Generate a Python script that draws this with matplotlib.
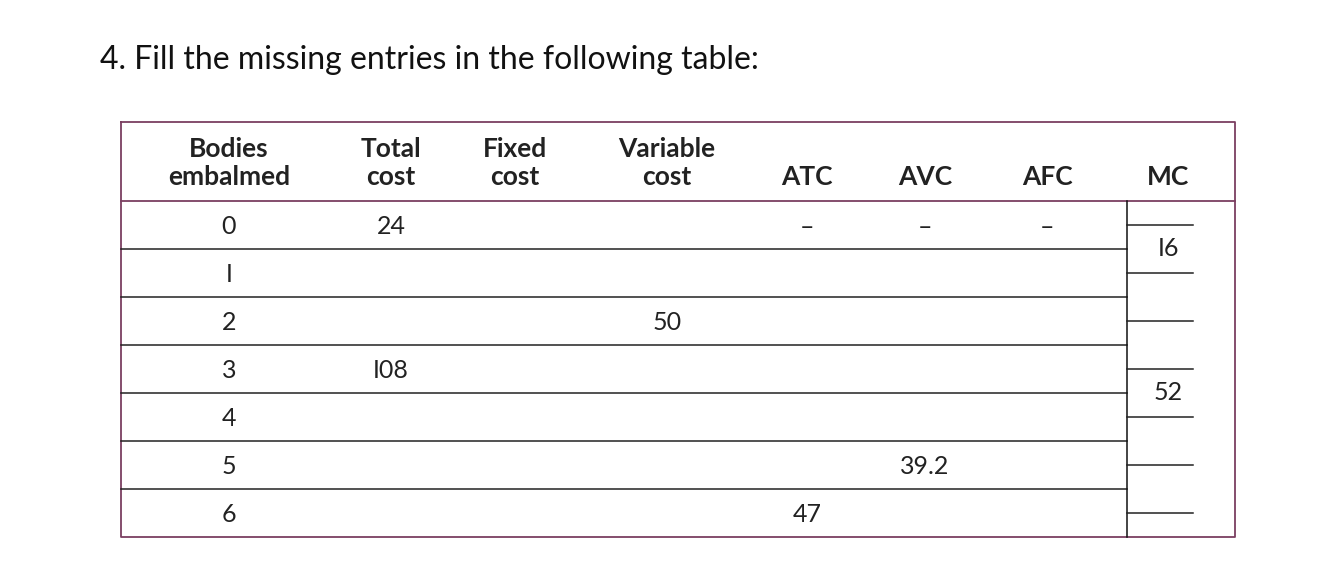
import matplotlib
matplotlib.use("Agg")
import matplotlib.pyplot as plt

headers = [("Bodies", "embalmed"), ("Total", "cost"), ("Fixed", "cost"), ("Variable", "cost"),
           ("", "ATC"), ("", "AVC"), ("", "AFC"), ("", "MC")]
bodies = ["0", "I", "2", "3", "4", "5", "6"]
total_cost = ["24", "", "", "I08", "", "", ""]
fixed_cost = ["", "", "", "", "", "", ""]
variable_cost = ["", "", "50", "", "", "", ""]
atc = ["–", "", "", "", "", "", "47"]
avc = ["–", "", "", "", "", "39.2", ""]
afc = ["–", "", "", "", "", "", ""]
mc = ["I6", "", "", "52", "", ""]

W, H = 1334, 586
fig = plt.figure(figsize=(W/100, H/100), dpi=100)
ax = fig.add_axes([0, 0, 1, 1])
ax.set_xlim(0, W); ax.set_ylim(H, 0); ax.axis("off")

font = "Lato"
purple = "#7b3f61"
ax.text(100, 60, "4. Fill the missing entries in the following table:", fontsize=23,
        family=font, va="center", ha="left", color="#111")

L, R, T, B = 121, 1235, 122, 537
hb = 201
ax.plot([L, R, R, L, L], [T, T, B, B, T], color=purple, lw=1.3)
ax.plot([L, R], [hb, hb], color=purple, lw=1.3)
rows_y = [hb + (B - hb) * i / 7 for i in range(8)]
mcx = 1127
for y in rows_y[1:-1]:
    ax.plot([L, mcx], [y, y], color="#222", lw=1.1)
ax.plot([mcx, mcx], [hb, B], color="#111", lw=1.1)
for i in range(7):
    ym = (rows_y[i] + rows_y[i+1]) / 2
    ax.plot([mcx, 1193], [ym, ym], color="#222", lw=1.1)

colx = [229, 391, 515, 667, 807, 925, 1047, 1168]
for x, (h1, h2) in zip(colx, headers):
    if h1:
        ax.text(x, 149, h1, fontsize=19, weight="bold", family=font, ha="center", va="center", color="#222")
    ax.text(x, 177, h2, fontsize=19, weight="bold", family=font, ha="center", va="center", color="#222")

cols = [bodies, total_cost, fixed_cost, variable_cost, atc, avc, afc]
for x, col in zip(colx, cols):
    for i, v in enumerate(col):
        ym = (rows_y[i] + rows_y[i+1]) / 2
        if v:
            ax.text(x, ym + 2, v, fontsize=18, family=font, ha="center", va="center", color="#222")
for i, v in enumerate(mc):
    if v:
        ax.text(colx[7], rows_y[i+1], v, fontsize=18, family=font, ha="center", va="center", color="#222")

fig.savefig("out.png", dpi=100)
